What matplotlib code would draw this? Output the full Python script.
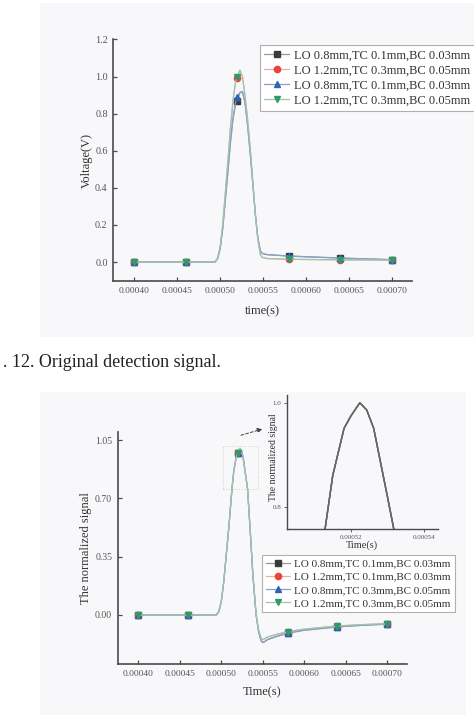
"""
Fig. 12: original detection signal (top) and normalized signal with zoomed peak (bottom).
"""
import matplotlib
matplotlib.use("Agg")
import matplotlib.pyplot as plt
from matplotlib.patches import Rectangle, FancyArrowPatch

plt.rcParams["font.family"] = ["Liberation Serif", "DejaVu Serif"]

# ---- data --------------------------------------------------------------
# time samples of the raw voltage curves (s)
t_raw = [0.000400, 0.000460, 0.000494, 0.000497, 0.000500, 0.000503, 0.000506,
         0.000509, 0.000512, 0.000515, 0.000518, 0.000520, 0.000523, 0.000526,
         0.000529, 0.000532, 0.000535, 0.000538, 0.000541, 0.000544, 0.000547,
         0.000549, 0.000555, 0.000580, 0.000640, 0.000700]
raw_marks = [0, 1, 11, 23, 24, 25]

v_raw_a = [0, 0, 0, 0.018, 0.07, 0.18, 0.33, 0.48, 0.64, 0.77, 0.85, 0.87, 0.91,
           0.92, 0.86, 0.74, 0.59, 0.43, 0.26, 0.13, 0.06, 0.047, 0.040, 0.033,
           0.022, 0.013]
v_raw_b = [0, 0, 0, 0.02, 0.08, 0.20, 0.37, 0.54, 0.72, 0.87, 0.97, 0.99, 1.035,
           1.00, 0.90, 0.77, 0.62, 0.44, 0.26, 0.12, 0.04, 0.025, 0.019, 0.015,
           0.012, 0.011]
v_raw_c = [0, 0, 0, 0.018, 0.07, 0.18, 0.33, 0.49, 0.65, 0.78, 0.86, 0.89, 0.915,
           0.92, 0.86, 0.74, 0.59, 0.43, 0.26, 0.13, 0.06, 0.047, 0.040, 0.032,
           0.021, 0.013]
v_raw_d = [0, 0, 0, 0.02, 0.08, 0.20, 0.37, 0.54, 0.72, 0.87, 0.97, 1.00, 1.035,
           1.00, 0.90, 0.77, 0.62, 0.44, 0.26, 0.12, 0.04, 0.025, 0.019, 0.015,
           0.012, 0.011]
raw_labels = ["LO 0.8mm,TC 0.1mm,BC 0.03mm", "LO 1.2mm,TC 0.3mm,BC 0.05mm",
              "LO 0.8mm,TC 0.1mm,BC 0.03mm", "LO 1.2mm,TC 0.3mm,BC 0.05mm"]

# time samples of the normalized curves (s)
t_norm = [0.000400, 0.000460, 0.000494, 0.000497, 0.000500, 0.000503, 0.000506,
          0.000509, 0.000511, 0.0005129, 0.000515, 0.0005181, 0.000520, 0.0005224,
          0.0005243, 0.0005262, 0.000528, 0.000530, 0.0005317, 0.000535, 0.000538,
          0.000542, 0.000545, 0.000548, 0.000550, 0.000552, 0.000556, 0.000565,
          0.000580, 0.000600, 0.000640, 0.000670, 0.000700]
norm_marks = [0, 1, 12, 28, 30, 32]

n_a = [0, 0, 0, 0.02, 0.08, 0.20, 0.36, 0.52, 0.64, 0.757, 0.86, 0.951, 0.975,
       1.00, 0.986, 0.951, 0.888, 0.818, 0.757, 0.50, 0.25, 0.0, -0.10, -0.155,
       -0.166, -0.162, -0.148, -0.132, -0.110, -0.092, -0.072, -0.062, -0.055]
n_b = [0, 0, 0, 0.02, 0.08, 0.20, 0.36, 0.52, 0.64, 0.757, 0.86, 0.951, 0.975,
       1.00, 0.986, 0.951, 0.888, 0.818, 0.757, 0.50, 0.25, 0.005, -0.09, -0.138,
       -0.148, -0.144, -0.132, -0.119, -0.100, -0.085, -0.066, -0.058, -0.052]
n_c = [0, 0, 0, 0.02, 0.08, 0.20, 0.36, 0.52, 0.64, 0.757, 0.86, 0.951, 0.975,
       1.00, 0.986, 0.951, 0.888, 0.818, 0.757, 0.50, 0.25, 0.0, -0.10, -0.153,
       -0.164, -0.160, -0.147, -0.131, -0.108, -0.091, -0.071, -0.062, -0.055]
n_d = [0, 0, 0, 0.02, 0.08, 0.20, 0.36, 0.52, 0.64, 0.757, 0.86, 0.951, 0.975,
       1.00, 0.986, 0.951, 0.888, 0.818, 0.757, 0.50, 0.25, 0.005, -0.09, -0.138,
       -0.148, -0.144, -0.132, -0.119, -0.100, -0.085, -0.066, -0.058, -0.052]
norm_labels = ["LO 0.8mm,TC 0.1mm,BC 0.03mm", "LO 1.2mm,TC 0.1mm,BC 0.03mm",
               "LO 0.8mm,TC 0.3mm,BC 0.05mm", "LO 1.2mm,TC 0.3mm,BC 0.05mm"]

x_ticks = [0.00040, 0.00045, 0.00050, 0.00055, 0.00060, 0.00065, 0.00070]
raw_yticks = [0.0, 0.2, 0.4, 0.6, 0.8, 1.0, 1.2]
norm_yticks = [0.00, 0.35, 0.70, 1.05]
inset_xticks = [0.00052, 0.00054]
inset_yticks = [0.8, 1.0]

# ---- styles -------------------------------------------------------------
mk_colors = ["#3a3a3a", "#e8463c", "#2f63b8", "#2f9a6a"]
ln_colors = ["#9a9a9a", "#e8b0aa", "#8a9fc8", "#9cc6ae"]
markers = ["s", "o", "^", "v"]
AX_COL = "#4a4a4a"
TXT_COL = "#555555"

fig = plt.figure(figsize=(4.74, 7.19), dpi=100)

# light panels behind the two graphs
fig.patches.append(Rectangle((40 / 474, 1 - 337 / 719), 434 / 474, 334 / 719,
                             transform=fig.transFigure, facecolor="#f8f8fa",
                             edgecolor="none", zorder=-5))
fig.patches.append(Rectangle((40 / 474, 1 - 715 / 719), 426 / 474, 323 / 719,
                             transform=fig.transFigure, facecolor="#f8f8fa",
                             edgecolor="none", zorder=-5))


def style_axes(ax, fs):
    for s in ("top", "right"):
        ax.spines[s].set_visible(False)
    for s in ("left", "bottom"):
        ax.spines[s].set_color(AX_COL)
        ax.spines[s].set_linewidth(1.2)
    ax.set_facecolor("none")
    ax.tick_params(direction="in", length=3, width=0.9, color=AX_COL,
                   labelcolor=TXT_COL, labelsize=fs, pad=4)


# ---- top: raw voltage ---------------------------------------------------
ax1 = fig.add_axes([113.3 / 474, 1 - 281 / 719, 299 / 474, 241.5 / 719])
style_axes(ax1, 7.3)
h1 = []
for vals, lc, mc, m, lab in zip([v_raw_a, v_raw_b, v_raw_c, v_raw_d], ln_colors,
                                mk_colors, markers, raw_labels):
    ln, = ax1.plot(t_raw, vals, color=lc, lw=0.9, marker=m, markevery=raw_marks,
                   markersize=4.5, markerfacecolor=mc, markeredgecolor=mc,
                   label=lab)
    h1.append(ln)
ax1.set_xlim(0.0003755, 0.000724)
ax1.set_ylim(-0.102, 1.2)
ax1.set_xticks(x_ticks)
ax1.set_xticklabels([f"{v:.5f}" for v in x_ticks], fontsize=6.8)
ax1.set_yticks(raw_yticks)
ax1.set_yticklabels([f"{v:.1f}" for v in raw_yticks])
ax1.set_xlabel("time(s)", fontsize=9, color="#333333")
ax1.set_ylabel("Voltage(V)", fontsize=9, color="#333333")
ax1.xaxis.set_label_coords(0.50, -0.099)
ax1.yaxis.set_label_coords(-0.067, 0.50)
leg1 = ax1.legend(handles=h1, loc="upper left",
                  bbox_to_anchor=(260 / 474, 1 - 45 / 719),
                  bbox_transform=fig.transFigure, fontsize=9, frameon=True,
                  fancybox=False, edgecolor="#b0b0b0", facecolor="white",
                  framealpha=1, borderpad=0.35, labelspacing=0.25,
                  handlelength=2.0, handletextpad=0.4, borderaxespad=0)
leg1.get_frame().set_linewidth(0.8)
for tx in leg1.get_texts():
    tx.set_color("#333333")

# caption between the graphs
fig.text(2.7 / 474, 1 - 366.7 / 719, ". 12. Original detection signal.",
         fontsize=13, color="#222222", ha="left", va="baseline")

# ---- bottom: normalized signal -----------------------------------------
ax2 = fig.add_axes([117.7 / 474, 1 - 664.3 / 719, 289.6 / 474, 232.6 / 719])
style_axes(ax2, 7)
h2 = []
for vals, lc, mc, m, lab in zip([n_a, n_b, n_c, n_d], ln_colors, mk_colors,
                                markers, norm_labels):
    ln, = ax2.plot(t_norm, vals, color=lc, lw=0.9, marker=m,
                   markevery=norm_marks, markersize=4.5, markerfacecolor=mc,
                   markeredgecolor=mc, label=lab)
    h2.append(ln)
ax2.set_xlim(0.000375, 0.0007245)
ax2.set_ylim(-0.296, 1.10)
ax2.set_xticks(x_ticks)
ax2.set_xticklabels([f"{v:.5f}" for v in x_ticks], fontsize=6.8)
ax2.set_yticks(norm_yticks)
ax2.set_yticklabels([f"{v:.2f}" for v in norm_yticks])
ax2.set_xlabel("Time(s)", fontsize=9, color="#333333")
ax2.set_ylabel("The normalized signal", fontsize=9, color="#333333")
ax2.xaxis.set_label_coords(0.50, -0.096)
ax2.yaxis.set_label_coords(-0.090, 0.50)
leg2 = ax2.legend(handles=h2, loc="upper left",
                  bbox_to_anchor=(261.7 / 474, 1 - 555 / 719),
                  bbox_transform=fig.transFigure, fontsize=8, frameon=True,
                  fancybox=False, edgecolor="#b0b0b0", facecolor="white",
                  framealpha=1, borderpad=0.35, labelspacing=0.3,
                  handlelength=2.2, handletextpad=0.4, borderaxespad=0)
leg2.get_frame().set_linewidth(0.8)
for tx in leg2.get_texts():
    tx.set_color("#333333")

# ---- inset: zoom on the peak -------------------------------------------
ins_xlim = (0.0005024, 0.0005438)
ins_ylim = (0.757, 1.015)
ax3 = fig.add_axes([286.7 / 474, 1 - 529 / 719, 151.3 / 474, 134 / 719])
for s in ("top", "right"):
    ax3.spines[s].set_visible(False)
for s in ("left", "bottom"):
    ax3.spines[s].set_color(AX_COL)
    ax3.spines[s].set_linewidth(1.0)
ax3.set_facecolor("none")
for vals, lc in zip([n_b, n_d, n_c, n_a], ["#8c8c8c", "#8c8c8c", "#707070", "#666666"]):
    ax3.plot(t_norm, vals, color=lc, lw=1.0)
ax3.set_xlim(*ins_xlim)
ax3.set_ylim(*ins_ylim)
ax3.set_xticks(inset_xticks)
ax3.set_xticklabels([f"{v:.5f}" for v in inset_xticks])
ax3.set_yticks(inset_yticks)
ax3.set_yticklabels([f"{v:.1f}" for v in inset_yticks])
ax3.tick_params(direction="out", length=2, width=0.6, color=AX_COL,
                labelcolor=TXT_COL, labelsize=5, pad=2)
ax3.set_xlabel("Time(s)", fontsize=7.5, color="#333333")
ax3.set_ylabel("The normalized signal", fontsize=7, color="#333333")
ax3.xaxis.set_label_coords(0.50, -0.085)
ax3.yaxis.set_label_coords(-0.055, 0.54)

# dotted box marking the zoomed region, and the dashed arrow to the inset
ax2.add_patch(Rectangle((ins_xlim[0], ins_ylim[0]), ins_xlim[1] - ins_xlim[0],
                        ins_ylim[1] - ins_ylim[0], fill=False,
                        edgecolor="#d6cfc0", lw=0.7, ls=":"))
fig.add_artist(FancyArrowPatch(
    (238.3 / 474, 1 - 436 / 719), (265 / 474, 1 - 428.3 / 719),
    transform=fig.transFigure, arrowstyle="-|>", mutation_scale=7,
    linestyle=(0, (3, 2)), color="#444444", lw=0.7))

fig.savefig("out.png", dpi=100)
